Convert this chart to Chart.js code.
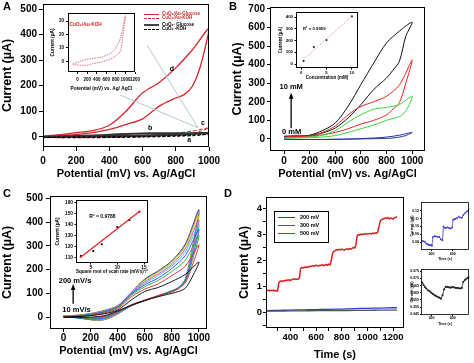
<!DOCTYPE html>
<html><head><meta charset="utf-8">
<script src="https://cdn.jsdelivr.net/npm/chart.js@4.4.1/dist/chart.umd.min.js"></script>
<style>
html,body{margin:0;padding:0;background:#fff;}
#wrap{position:relative;width:474px;height:363px;overflow:hidden;background:#fff;font-family:"Liberation Sans",Arial,sans-serif;}
canvas{position:absolute;}
.lbl{position:absolute;font-weight:bold;font-size:11px;line-height:11px;color:#000;}
.t{position:absolute;font-weight:bold;white-space:nowrap;line-height:1;}
.ln{position:absolute;height:0;}
</style></head><body><div id="wrap">
<canvas id="cA" style="left:0;top:0" width="237" height="182"></canvas>
<canvas id="cB" style="left:225px;top:0" width="249" height="182"></canvas>
<canvas id="cC" style="left:0;top:182px" width="237" height="181"></canvas>
<canvas id="cD" style="left:225px;top:182px" width="249" height="181"></canvas>
<canvas id="iA" style="left:45px;top:8px" width="100" height="90"></canvas>
<canvas id="iB" style="left:270px;top:5px" width="100" height="80"></canvas>
<canvas id="iC" style="left:45px;top:192px" width="115" height="90"></canvas>
<canvas id="iD1" style="left:400px;top:196px" width="74" height="67"></canvas>
<canvas id="iD2" style="left:400px;top:263px" width="74" height="67"></canvas>

<div class="lbl" style="left:3px;top:1px">A</div>
<div class="lbl" style="left:229px;top:1px">B</div>
<div class="lbl" style="left:3px;top:188px">C</div>
<div class="lbl" style="left:224px;top:188px">D</div>

<!-- legend A -->
<div class="ln" style="left:144px;top:14px;width:15px;border-top:1px solid #d7262b"></div>
<div class="t" style="left:162px;top:12px;font-size:4.5px;color:#d7262b">CuO₂/Au-Glucose</div>
<div class="ln" style="left:144px;top:18px;width:15px;border-top:1px dashed #d7262b"></div>
<div class="t" style="left:162px;top:16px;font-size:4.5px;color:#d7262b">CuO₂/Au-KOH</div>
<div class="ln" style="left:144px;top:24px;width:15px;border-top:2px solid #444"></div>
<div class="t" style="left:162px;top:22.5px;font-size:4.5px;color:#000">CuO₂- Glucose</div>
<div class="ln" style="left:144px;top:29px;width:15px;border-top:1px dashed #000"></div>
<div class="t" style="left:162px;top:27px;font-size:4.5px;color:#000">CuO₂ -KOH</div>

<!-- legend D -->
<div style="position:absolute;left:274px;top:211px;width:53px;height:30px;border:1px solid #000;background:#fff"></div>
<div class="ln" style="left:278px;top:217px;width:17px;border-top:1.5px solid #2a3fc8"></div>
<div class="t" style="left:300px;top:215px;font-size:5.5px">200 mV</div>
<div class="ln" style="left:278px;top:225px;width:17px;border-top:1.5px solid #555"></div>
<div class="t" style="left:300px;top:223px;font-size:5.5px">300 mV</div>
<div class="ln" style="left:278px;top:233px;width:17px;border-top:1.5px solid #e02020"></div>
<div class="t" style="left:300px;top:231px;font-size:5.5px">500 mV</div>
</div>
<script>
// ---------------- DATA ----------------
const potential = [0,100,200,300,400,500,600,700,800,900,1000,950,900,850,800,700,600,500,400,300,200,100,0];

// Panel A
const aGlucoseAu = [3,8,16,24,45,100,172,213,270,341,422, 280,198,165,152,120,70,48,29,16,9,3,0];
const aKOHAu     = [-3,-2,0,1,2,3,5,8,14,22,35, 22,14,9,6,3,0,-2,-3,-4,-4,-4,-3];
const aGlucose   = [0,1,3,5,8,11,13,14,14,14,15, 13,11,9,8,6,4,3,2,1,0,0,0];
const aKOH       = [-2,-2,-1,-1,0,0,1,2,4,6,10, 7,4,3,2,0,-1,-2,-3,-3,-3,-3,-2];
const insetAPotential = [-100,100,200,300,400,500,600,700,800,900,1000,950,900,850,800,700,600,500,400,300,200,100,-100];
const insetAKOH  = [-2,0.5,1.5,2,2.5,3,4.5,6,10,18,34, 20,8,5.5,4,2,0.7,-0.5,-1.2,-2,-3,-3,-2.5];

// Panel B (concentrations)
const b10mM = [14,16,20,45,86,176,293,409,517,580,628, 553,418,370,328,266,185,113,59,32,18,15,14];
const bRed  = [8,20,15,35,70,130,175,200,230,290,425, 300,195,160,130,100,80,55,35,22,15,12,8];
const bGreen= [5,7,10,20,45,90,130,160,170,185,230, 150,120,110,100,75,55,35,18,10,7,5,5];
const b0mM  = [-2,-3,-3,-3,-2,-1,2,5,10,20,35, 18,10,5,3,1,0,-1,-2,-3,-3,-3,-2];
const bConc = [0.5,2.5,5,10];
const bPeak = [26,145,204,406];
const bFitX = [0.5,10];
const bFitY = [40,406];

// Panel C (scan rates)
const cLoops = [
  [0,2,6,14,30,72,108,125,150,180,232, 168,122,108,100,86,70,50,26,6,0,0,0],
  [1,3,8,17,36,85,118,140,175,215,305, 215,145,120,106,90,72,52,24,3,-3,-1,1],
  [2,4,10,20,40,92,128,155,192,240,345, 235,150,122,108,90,70,50,22,0,-6,-2,2],
  [2,5,11,22,42,96,136,165,205,260,370, 250,155,123,109,90,70,49,20,-3,-8,-3,2],
  [3,6,12,24,44,98,142,175,215,275,390, 262,157,124,110,90,70,49,18,-5,-9,-3,3],
  [3,6,13,25,45,100,148,182,222,287,410, 272,158,124,110,90,69,48,16,-7,-10,-2,3],
  [4,7,14,26,46,101,152,188,228,296,425, 278,159,125,111,90,69,48,15,-9,-10,-2,4],
  [4,7,14,27,47,102,156,192,233,302,440, 283,160,125,111,90,69,48,14,-10,-11,-1,4],
  [5,8,15,28,48,104,160,195,237,308,452, 287,160,125,111,90,69,48,13,-11,-11,-1,5]
];
const cColors = ['#000000','#e8202a','#20a040','#2040ff','#20c0d0','#d040c0','#d8d020','#8a9a30','#1a1a80'];
const cSqrtRate = [3.16,5.48,7.07,10,12.25,14.14];
const cCurrent  = [111.2,115.7,121.8,137.5,143.9,151.5];
const cFitX = [2.98,14.25];
const cFitY = [109.6,152.1];

// Panel D (amperometry)
const dTime = [210,220,230,240,250,260,270,280,290,300,310,320,330,340,350,360,370,380,390,400,410,420,430,440,450,460,470,480,490,500,510,520,530,540,550,560,570,580,590,600,610,620,630,640,650,660,670,680,690,700,710,720,730,740,750,760,770,780,790,800,810,820,830,840,850,860,870,880,890,900,910,920,930,940,950,960,970,980,990,1000,1010,1020,1030,1040,1050,1060,1070,1080,1090,1100,1110,1120,1130,1140,1150,1160,1170,1180,1190,1200,1210,1220,1230];
const d500 = [0.85,0.84,0.86,0.83,0.85,0.84,0.86,0.82,0.84,0.83,
  1.15,1.20,1.22,1.19,1.23,1.22,1.25,1.24,1.26,1.23,1.27,1.28,1.30,1.27,1.29,1.28,1.32,
  1.70,1.74,1.72,1.75,1.73,1.76,1.74,1.78,1.77,1.79,1.80,1.78,1.82,1.80,1.79,1.82,1.81,1.84,1.80,1.83,1.85,1.82,1.86,1.84,
  2.05,2.30,2.36,2.38,2.42,2.40,2.43,2.41,2.44,2.42,2.40,2.43,2.45,2.42,2.46,2.44,2.47,2.50,2.48,2.60,
  2.95,3.00,2.98,3.02,3.00,3.03,3.01,3.04,3.02,3.03,3.05,3.02,3.06,3.04,3.07,3.05,3.10,3.30,
  3.52,3.58,3.60,3.62,3.65,3.63,3.66,3.60,3.64,3.62,3.60,3.65,3.66,3.70];
const dTimeLow = [210,300,400,500,600,700,800,900,1000,1100,1200,1230];
const d200 = [0.07,0.08,0.09,0.10,0.11,0.12,0.13,0.15,0.16,0.17,0.18,0.18];
const d300 = [0.05,0.05,0.06,0.06,0.07,0.07,0.07,0.08,0.08,0.09,0.09,0.09];
const dInsetT1 = [106,120,136,150,161,172,182,195,203,212,227,242,258,273,288,303,312,322,334,349,364,379,394,403,414,424,439,455,470,485,500,515,530,545,561];
const dInset200 = [0.0821,0.081,0.0804,0.078,0.0771,0.0765,0.0758,0.0762,0.075,0.0863,0.0876,0.0872,0.0867,0.0865,0.0834,0.0821,0.1002,0.0985,0.0981,0.0989,0.098,0.0973,0.0985,0.1086,0.1095,0.1099,0.1107,0.1128,0.1116,0.1112,0.115,0.117,0.1192,0.12,0.1234];
const dInsetT2 = [112,124,136,150,167,182,197,212,227,242,258,273,288,303,318,333,349,364,379,394,409,424,439,455,470,485,500,515,530,545,561];
const dInset300 = [0.0671,0.0655,0.0641,0.063,0.0617,0.061,0.0601,0.0592,0.0583,0.0578,0.0571,0.0566,0.0559,0.0583,0.0624,0.0641,0.0641,0.0638,0.0636,0.064,0.0638,0.0635,0.0634,0.0632,0.063,0.0634,0.0676,0.069,0.0699,0.0705,0.071];

// tick values
const ticksA_X = [0,200,400,600,800,1000], ticksA_Y = [0,100,200,300,400,500];
const ticksB_Y = [0,100,200,300,400,500,600,700];
const ticksD_X = [300,400,500,600,700,800,900,1000,1100,1200];
const ticksD_Y = [-0.5,0,0.5,1,1.5,2,2.5,3,3.5,4];
const ticksIA_X = [0,200,400,600,800,1000,1200], ticksIA_Y = [0,10,20,30];
const ticksIB_X = [0,5,10], ticksIB_Y = [0,100,200,300,400];
const ticksIC_X = [5,10,15], ticksIC_Y = [110,120,130,140,150,160];
const ticksID1_Y = [0.08,0.09,0.10,0.11,0.12];
const ticksID2_Y = [0.045,0.05,0.055,0.06,0.065,0.07,0.075];
const ticksID_X = [200,400];

// ---------------- HELPERS ----------------
const FONT = "'Liberation Sans', Arial, sans-serif";
const pts = (xs, ys) => xs.map((x,i)=>({x, y: ys[i]}));

const framePlugin = {
  id:'frame',
  beforeDraw(chart, args, opts){
    if(opts.fill){const a=chart.chartArea,c=chart.ctx;c.save();c.fillStyle=opts.fill;c.fillRect(a.left,a.top,a.right-a.left,a.bottom-a.top);c.restore();}
  },
  afterDatasetsDraw(chart, args, opts){
    const a=chart.chartArea,c=chart.ctx;c.save();c.strokeStyle='#000';c.lineWidth=opts.width||1;
    c.strokeRect(Math.round(a.left)+0.5,Math.round(a.top)+0.5,Math.round(a.right-a.left)-1,Math.round(a.bottom-a.top)-1);c.restore();
  }
};
const notesPlugin = {
  id:'notes',
  afterDatasetsDraw(chart, args, opts){
    const c=chart.ctx, xs=chart.scales.x, ys=chart.scales.y;
    c.save();
    (opts.segments||[]).forEach(s=>{c.strokeStyle=s.color;c.lineWidth=s.width||1;c.beginPath();
      c.moveTo(xs.getPixelForValue(s.x1),ys.getPixelForValue(s.y1));c.lineTo(xs.getPixelForValue(s.x2),ys.getPixelForValue(s.y2));c.stroke();});
    (opts.arrows||[]).forEach(a=>{const x=xs.getPixelForValue(a.x),y1=ys.getPixelForValue(a.y1),y2=ys.getPixelForValue(a.y2);
      c.strokeStyle='#000';c.fillStyle='#000';c.lineWidth=1.3;c.beginPath();c.moveTo(x,y1);c.lineTo(x,y2+4);c.stroke();
      c.beginPath();c.moveTo(x,y2);c.lineTo(x-2.3,y2+6);c.lineTo(x+2.3,y2+6);c.closePath();c.fill();});
    (opts.texts||[]).forEach(t=>{c.font=t.font;c.fillStyle=t.color||'#000';c.textAlign='center';c.textBaseline='middle';
      c.fillText(t.text,xs.getPixelForValue(t.x),ys.getPixelForValue(t.y));});
    c.restore();
  }
};

function axis(o){
  return {
    type:'linear', position:o.isX?'bottom':'left', min:o.min, max:o.max,
    afterBuildTicks:(s)=>{s.ticks=o.ticks.map(v=>({value:v}));},
    afterFit:(s)=>{ if(o.isX) s.height=o.size; else s.width=o.size; s.paddingLeft=0;s.paddingRight=0;s.paddingTop=0;s.paddingBottom=0; },
    border:{display:false},
    grid:{display:true, drawOnChartArea:false, drawTicks:true, tickLength:o.tl, tickColor:'#000', tickWidth:o.tw||1, color:'#000'},
    ticks:{color:'#000', font:{family:FONT,size:o.fs,weight:'bold'}, padding:o.tp, maxRotation:0, minRotation:0, autoSkip:false,
      callback:o.cb||((v)=>String(v))},
    title:{display:!!o.title, text:o.title, color:'#000', font:{family:FONT,size:o.tfs,weight:'bold'}, padding:o.tpad}
  };
}
function make(id, datasets, x, y, padding, plugins){
  return new Chart(document.getElementById(id), {
    type:'scatter',
    data:{datasets},
    options:{responsive:false, animation:false, events:[], layout:{padding},
      scales:{x:axis(Object.assign({isX:true},x)), y:axis(y)},
      plugins:Object.assign({legend:{display:false}, tooltip:{enabled:false}}, plugins||{})},
    plugins:[framePlugin, notesPlugin]
  });
}
const line = (data, color, w, dash, tension) => ({data, borderColor:color, borderWidth:w, borderDash:dash||[], showLine:true, pointRadius:0, tension:tension===undefined?0.3:tension, fill:false});

// ---------------- PANEL A ----------------
make('cA', [
  line(pts(potential,aKOH),'#000',1,[3,2]),
  line(pts(potential,aGlucose),'#333',2),
  line(pts(potential,aKOHAu),'#d7262b',1,[4,2]),
  line(pts(potential,aGlucoseAu),'#d7262b',1.3)
],
{min:0,max:1000,ticks:ticksA_X,size:35,tl:4,tp:4,fs:10,title:'Potential (mV) vs. Ag/AgCl',tfs:11,tpad:{top:0,bottom:1.4}},
{min:-40,max:520,ticks:ticksA_Y,size:43,tl:4,tp:2,fs:10,title:'Current (µA)',tfs:12.5,tpad:{top:0,bottom:0}},
{left:0,top:4,right:28,bottom:0},
{notes:{
  segments:[{x1:627,y1:359,x2:934,y2:35,color:'#a9c0cc',width:0.9},{x1:464,y1:164,x2:934,y2:35,color:'#a9c0cc',width:0.9}],
  texts:[{x:777,y:265,text:'d',font:'bold 7px '+FONT},{x:645,y:35,text:'b',font:'bold 7px '+FONT},
         {x:964,y:55,text:'c',font:'bold 7px '+FONT},{x:880,y:-12,text:'a',font:'bold 7px '+FONT}]}});

make('iA', [line(pts(insetAPotential,insetAKOH),'#d05060',0.8,[1.5,1])],
{min:-200,max:1200,ticks:ticksIA_X,size:26,tl:2,tp:3,fs:4.5,title:'Potential (mV) vs. Ag/ AgCl',tfs:4.8,tpad:{top:0,bottom:6}},
{min:-8,max:36,ticks:ticksIA_Y,size:23,tl:2,tp:2,fs:4.5,title:'Current (µA)',tfs:4.8,tpad:{top:5,bottom:0}},
{left:0,top:5,right:10,bottom:0},
{frame:{fill:'#fff'}, notes:{texts:[{x:170,y:27,text:'CuO₂/Au-KOH',font:'bold 4.8px '+FONT,color:'#e02020'}]}});

// ---------------- PANEL B ----------------
make('cB', [
  line(pts(potential,b0mM),'#27359e',1),
  line(pts(potential,bGreen),'#39d43a',1),
  line(pts(potential,bRed),'#e3242b',1),
  line(pts(potential,b10mM),'#111',1)
],
{min:-110,max:1100,ticks:ticksA_X,size:31,tl:3,tp:1,fs:10,title:'Potential (mV) vs. Ag/AgCl',tfs:11,tpad:{top:0,bottom:1.4}},
{min:-65,max:710,ticks:ticksB_Y,size:45,tl:3,tp:2,fs:10,title:'Current (µA)',tfs:12.5,tpad:{top:5,bottom:0}},
{left:0,top:7,right:49,bottom:0},
{notes:{arrows:[{x:55,y1:59,y2:248}],
  texts:[{x:55,y:280,text:'10 mM',font:'bold 7.5px '+FONT},{x:59,y:38,text:'0 mM',font:'bold 7.5px '+FONT}]}});

make('iB', [
  line(pts(bFitX,bFitY),'#e08080',0.8,[1,1],0),
  {data:pts(bConc,bPeak), showLine:false, pointRadius:1.2, pointStyle:'rect', backgroundColor:'#000', borderColor:'#000', borderWidth:0}
],
{min:-1,max:11.2,ticks:ticksIB_X,size:17,tl:1.5,tp:0.5,fs:4.3,title:'Concentration (mM)',tfs:4.5,tpad:{top:0,bottom:5}},
{min:-34,max:443,ticks:ticksIB_Y,size:26,tl:1.5,tp:1.5,fs:4.3,title:'Current (µA)',tfs:4.5,tpad:{top:8,bottom:0}},
{left:0,top:7,right:12,bottom:0},
{frame:{fill:'#fff'}, notes:{texts:[{x:2.6,y:298,text:'R² = 0.9959',font:'bold 4.3px '+FONT}]}});

// ---------------- PANEL C ----------------
make('cC', cLoops.map((arr,i)=>line(pts(potential,arr),cColors[i],0.9)),
{min:-100,max:1060,ticks:ticksA_X,size:34,tl:3,tp:0,fs:10,title:'Potential (mV) vs. Ag/AgCl',tfs:11,tpad:{top:0,bottom:5.4}},
{min:-50,max:510,ticks:ticksA_Y,size:50,tl:4,tp:3,fs:10,title:'Current (µA)',tfs:12.5,tpad:{top:0,bottom:0}},
{left:0,top:14,right:30,bottom:0},
{notes:{arrows:[{x:71,y1:56,y2:140}],
  texts:[{x:85,y:151,text:'200 mV/s',font:'bold 7.5px '+FONT},{x:96,y:31,text:'10 mV/s',font:'bold 7.5px '+FONT}]}});

make('iC', [
  line(pts(cFitX,cFitY),'#e02020',1.2,[],0),
  {data:pts(cSqrtRate,cCurrent), showLine:false, pointRadius:1.3, pointStyle:'rect', backgroundColor:'#000', borderColor:'#000', borderWidth:0}
],
{min:2.24,max:15.75,ticks:ticksIC_X,size:19,tl:1.5,tp:0,fs:4.8,title:'Square root of scan rate (mV/s)¹/²',tfs:4.8,tpad:{top:0,bottom:7}},
{min:104.8,max:162.1,ticks:ticksIC_Y,size:31,tl:1.5,tp:1.5,fs:4.8,title:'Current (µA)',tfs:4.8,tpad:{top:10,bottom:0}},
{left:0,top:8,right:12,bottom:0},
{frame:{fill:'#fff'}, notes:{texts:[{x:7.2,y:147,text:'R² = 0.9788',font:'bold 5px '+FONT}]}});

// ---------------- PANEL D ----------------
make('cD', [
  line(pts(dTimeLow,d300),'#555',1.3,[],0.2),
  line(pts(dTimeLow,d200),'#2a3fc8',1.3,[],0.2),
  line(pts(dTime,d500),'#e02020',1.5,[],0)
],
{min:210,max:1285,ticks:ticksD_X,size:35,tl:3,tp:1,fs:9.5,title:'Time (s)',tfs:11,tpad:{top:0,bottom:1.4},cb:(v)=>v%200===0?String(v):''},
{min:-0.6,max:4.45,ticks:ticksD_Y,size:41,tl:3,tp:1,fs:9.5,title:'Current (µA)',tfs:12.5,tpad:{top:12,bottom:0},cb:(v)=>Number.isInteger(v)?String(v):''},
{left:0,top:15,right:70,bottom:0}, {});

make('iD1', [{data:pts(dInsetT1,dInset200), showLine:true, borderColor:'#3a3ad0', borderWidth:0.8, pointRadius:0.6, pointStyle:'rect', backgroundColor:'#3a3ad0', tension:0}],
{min:100,max:555,ticks:ticksID_X,size:13,tl:1,tp:0.5,fs:3.5,title:'Time (s)',tfs:3.6,tpad:{top:0,bottom:2.2}},
{min:0.0697,max:0.1316,ticks:ticksID1_Y,size:21,tl:1,tp:1,fs:3.5,title:'Current (µA)',tfs:3.6,tpad:{top:9.4,bottom:0},cb:(v)=>v.toFixed(2)},
{left:0,top:6,right:3,bottom:0}, {frame:{fill:'#fff',width:0.8}});

make('iD2', [{data:pts(dInsetT2,dInset300), showLine:true, borderColor:'#222', borderWidth:0.8, pointRadius:0.8, pointStyle:'rect', backgroundColor:'#222', tension:0}],
{min:100,max:555,ticks:ticksID_X,size:15,tl:1,tp:0,fs:3.5,title:'Time (s)',tfs:3.6,tpad:{top:0,bottom:4.2}},
{min:0.0445,max:0.0766,ticks:ticksID2_Y,size:21,tl:1,tp:1,fs:3.5,title:'Current (µA)',tfs:3.6,tpad:{top:9.4,bottom:0},cb:(v)=>v.toFixed(3)},
{left:0,top:6,right:3,bottom:0}, {frame:{fill:'#fff',width:0.8}});
</script>
</body></html>
